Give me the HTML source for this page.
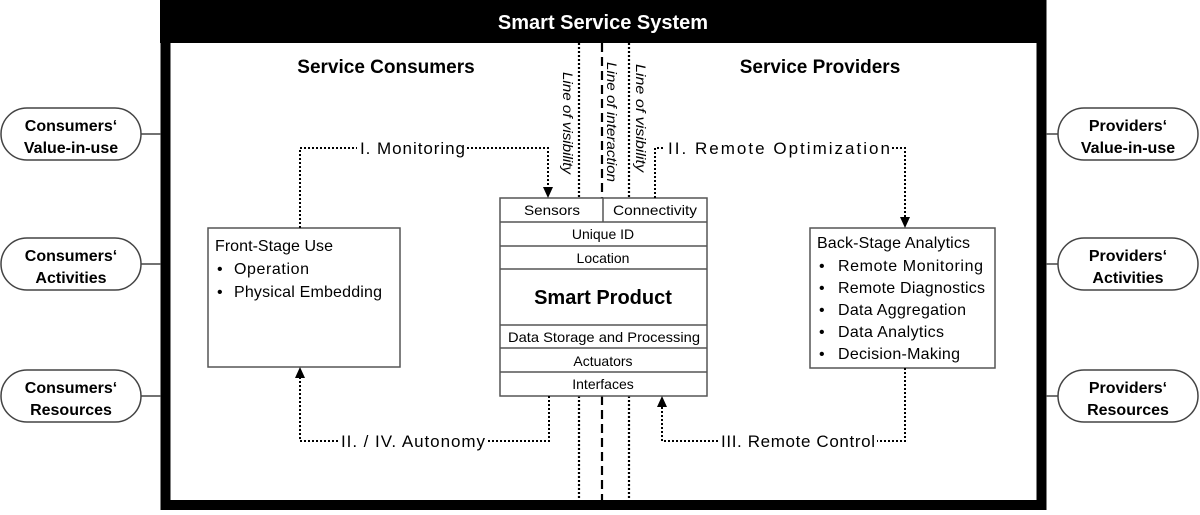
<!DOCTYPE html>
<html><head><style>
body{margin:0;width:1200px;height:510px;background:#fff;overflow:hidden}
svg text{font-family:"Liberation Sans",sans-serif}
</style></head><body>
<svg width="1200" height="510" xmlns="http://www.w3.org/2000/svg">
<rect x="165.5" y="0" width="876" height="505" fill="#fff" stroke="#000" stroke-width="10"/>
<rect x="160" y="0" width="886" height="43" fill="#000"/>
<text x="603" y="29" fill="#fff" font-size="20" font-weight="bold" text-anchor="middle">Smart Service System</text>
<text x="386" y="73" font-size="19" font-weight="bold" text-anchor="middle">Service Consumers</text>
<text x="820" y="73" font-size="19" font-weight="bold" text-anchor="middle">Service Providers</text>
<g stroke="#000" stroke-width="2.2" fill="none">
<line x1="579" y1="43" x2="579" y2="198" stroke-dasharray="2,2"/>
<line x1="579" y1="396" x2="579" y2="500" stroke-dasharray="2,2"/>
<line x1="629" y1="43" x2="629" y2="198" stroke-dasharray="2,2"/>
<line x1="629" y1="396" x2="629" y2="500" stroke-dasharray="2,2"/>
<line x1="602" y1="43" x2="602" y2="198" stroke-dasharray="9,5"/>
<line x1="602" y1="396" x2="602" y2="500" stroke-dasharray="9,5"/>
</g>
<g font-size="14" font-style="italic">
<text transform="translate(563,72) rotate(90)" textLength="102" lengthAdjust="spacingAndGlyphs">Line of visibility</text>
<text transform="translate(607,62) rotate(90)" textLength="120" lengthAdjust="spacingAndGlyphs">Line of interaction</text>
<text transform="translate(636,64) rotate(90)" textLength="108" lengthAdjust="spacingAndGlyphs">Line of visibility</text>
</g>
<g stroke="#555" stroke-width="1.5" fill="#fff">
<rect x="500" y="198" width="207" height="198"/>
<line x1="603" y1="198" x2="603" y2="222"/>
<line x1="500" y1="222" x2="707" y2="222"/>
<line x1="500" y1="246" x2="707" y2="246"/>
<line x1="500" y1="269" x2="707" y2="269"/>
<line x1="500" y1="325" x2="707" y2="325"/>
<line x1="500" y1="348" x2="707" y2="348"/>
<line x1="500" y1="372" x2="707" y2="372"/>
<rect x="208" y="228" width="192" height="139"/>
<rect x="810" y="228" width="185" height="140"/>
</g>
<g font-size="14" text-anchor="middle">
<text x="552" y="215" textLength="56" lengthAdjust="spacingAndGlyphs">Sensors</text>
<text x="655" y="215" textLength="84" lengthAdjust="spacingAndGlyphs">Connectivity</text>
<text x="603" y="239">Unique ID</text>
<text x="603" y="263">Location</text>
<text x="604" y="342" textLength="192" lengthAdjust="spacingAndGlyphs">Data Storage and Processing</text>
<text x="603" y="366">Actuators</text>
<text x="603" y="389">Interfaces</text>
</g>
<text x="603" y="304" font-size="20" font-weight="bold" text-anchor="middle">Smart Product</text>
<g font-size="16" lengthAdjust="spacingAndGlyphs">
<text x="215" y="251" textLength="118">Front-Stage Use</text>
<text x="217" y="274">•</text><text x="234" y="274" textLength="75">Operation</text>
<text x="217" y="297">•</text><text x="234" y="297" textLength="148">Physical Embedding</text>
<text x="817" y="248" textLength="153">Back-Stage Analytics</text>
<text x="819" y="271">•</text><text x="838" y="271" textLength="145">Remote Monitoring</text>
<text x="819" y="293">•</text><text x="838" y="293" textLength="147">Remote Diagnostics</text>
<text x="819" y="315">•</text><text x="838" y="315" textLength="128">Data Aggregation</text>
<text x="819" y="337">•</text><text x="838" y="337" textLength="106">Data Analytics</text>
<text x="819" y="359">•</text><text x="838" y="359" textLength="122">Decision-Making</text>
</g>
<g stroke="#000" stroke-width="2" fill="none" stroke-dasharray="2,2">
<path d="M300,228 V148 H357 M467,148 H548 V188"/>
<path d="M655,198 V148 H665 M892,148 H905 V218"/>
<path d="M549,396 V441 H487 M338,441 H300 V377"/>
<path d="M905,368 V441 H877 M718,441 H662 V406"/>
</g>
<g fill="#000">
<path d="M543,187 h10 l-5,11z"/>
<path d="M900,217 h10 l-5,11z"/>
<path d="M295,378 h10 l-5,-11z"/>
<path d="M657,407 h10 l-5,-11z"/>
</g>
<g font-size="17" lengthAdjust="spacingAndGlyphs">
<text x="360" y="154" textLength="105">I. Monitoring</text>
<text x="668" y="154" textLength="222">II. Remote Optimization</text>
<text x="341" y="447" textLength="144">II. / IV. Autonomy</text>
<text x="721" y="447" textLength="154">III. Remote Control</text>
</g>
<g stroke="#444" stroke-width="1.5" fill="#fff">
<line x1="140" y1="134" x2="161" y2="134"/><line x1="140" y1="264" x2="161" y2="264"/><line x1="140" y1="396" x2="161" y2="396"/>
<line x1="1046" y1="134" x2="1058" y2="134"/><line x1="1046" y1="264" x2="1058" y2="264"/><line x1="1046" y1="396" x2="1058" y2="396"/>
<rect x="1" y="108" width="140" height="52" rx="26"/>
<rect x="1" y="238" width="140" height="52" rx="26"/>
<rect x="1" y="370" width="140" height="52" rx="26"/>
<rect x="1058" y="108" width="140" height="52" rx="26"/>
<rect x="1058" y="238" width="140" height="52" rx="26"/>
<rect x="1058" y="370" width="140" height="52" rx="26"/>
</g>
<g font-size="16" font-weight="bold" text-anchor="middle">
<text x="71" y="131">Consumers‘</text><text x="71" y="153">Value-in-use</text>
<text x="71" y="261">Consumers‘</text><text x="71" y="283">Activities</text>
<text x="71" y="393">Consumers‘</text><text x="71" y="415">Resources</text>
<text x="1128" y="131">Providers‘</text><text x="1128" y="153">Value-in-use</text>
<text x="1128" y="261">Providers‘</text><text x="1128" y="283">Activities</text>
<text x="1128" y="393">Providers‘</text><text x="1128" y="415">Resources</text>
</g>
</svg>
</body></html>
